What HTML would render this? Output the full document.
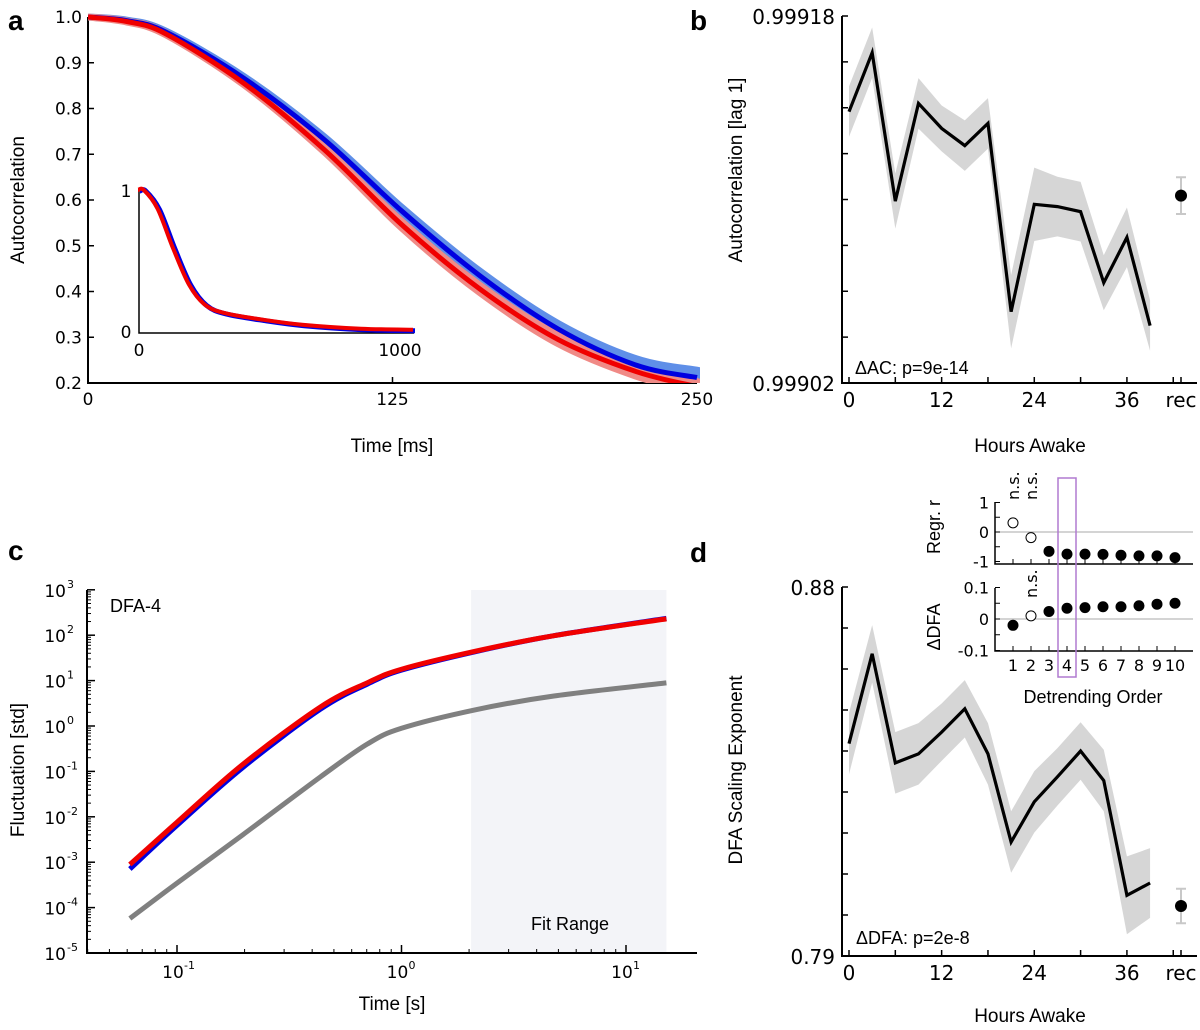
<!DOCTYPE html>
<html><head><meta charset="utf-8"><style>
html,body{margin:0;padding:0;background:#fff;}
svg{display:block;font-family:"DejaVu Sans","Liberation Sans",sans-serif;}
.lbl{font-family:"Liberation Sans",sans-serif;}
</style></head><body>
<svg id="fig" width="1200" height="1030" viewBox="0 0 1200 1030" xmlns="http://www.w3.org/2000/svg">
<defs><clipPath id="clipA"><rect x="88" y="10" width="612" height="373"/></clipPath></defs>
<text x="8" y="30" font-size="28" font-weight="bold" class="lbl">a</text>
<text x="690" y="30" font-size="28" font-weight="bold" class="lbl">b</text>
<text x="8" y="560" font-size="28" font-weight="bold" class="lbl">c</text>
<text x="690" y="562" font-size="28" font-weight="bold" class="lbl">d</text>
<text class="lbl" x="392" y="452" font-size="19" text-anchor="middle">Time [ms]</text>
<text class="lbl" transform="translate(24,200) rotate(-90)" font-size="19" text-anchor="middle">Autocorrelation</text>
<text class="lbl" x="1030" y="452" font-size="19" text-anchor="middle">Hours Awake</text>
<text class="lbl" transform="translate(742,170) rotate(-90)" font-size="19" text-anchor="middle">Autocorrelation [lag 1]</text>
<text class="lbl" x="855" y="374" font-size="18">ΔAC: p=9e-14</text>
<text class="lbl" x="392" y="1010" font-size="19" text-anchor="middle">Time [s]</text>
<text class="lbl" transform="translate(24,770) rotate(-90)" font-size="19" text-anchor="middle">Fluctuation [std]</text>
<text class="lbl" x="1030" y="1022" font-size="19" text-anchor="middle">Hours Awake</text>
<text class="lbl" transform="translate(742,770) rotate(-90)" font-size="19" text-anchor="middle">DFA Scaling Exponent</text>
<text class="lbl" x="856" y="944" font-size="18">ΔDFA: p=2e-8</text>
<text class="lbl" x="1093" y="703" font-size="18" text-anchor="middle">Detrending Order</text>
<text class="lbl" transform="translate(940,527) rotate(-90)" font-size="18" text-anchor="middle">Regr. r</text>
<text class="lbl" transform="translate(940,627) rotate(-90)" font-size="18" text-anchor="middle">ΔDFA</text>
</svg>
<script>
// ---- Panel a data ----
const aTimes = [0, 16, 32, 64, 97, 129, 161, 193, 225, 250];
const aBlue = [1.0, 0.992, 0.967, 0.866, 0.732, 0.575, 0.434, 0.318, 0.239, 0.212];
const aRed = [1.0, 0.99, 0.963, 0.855, 0.71, 0.545, 0.405, 0.295, 0.225, 0.192];
const aBlueErr = [0, 0.001, 0.002, 0.004, 0.006, 0.008, 0.01, 0.012, 0.014, 0.016];
const aRedErr = [0, 0.001, 0.002, 0.003, 0.005, 0.007, 0.008, 0.009, 0.01, 0.011];
const aYTicks = ["0.2","0.3","0.4","0.5","0.6","0.7","0.8","0.9","1.0"];
const aXTicks = [0, 125, 250];
const inTimes = [0, 21, 71, 128, 185, 242, 313, 455, 597, 811, 1000];
const inVals = [1, 1, 0.87, 0.59, 0.34, 0.2, 0.14, 0.093, 0.058, 0.03, 0.023];
// ---- Panel b data ----
const bHours = [0, 3, 6, 9, 12, 15, 18, 21, 24, 27, 30, 33, 36, 39];
const bVals = [11.83, 14.4, 7.93, 12.19, 11.1, 10.35, 11.32, 3.11, 7.79, 7.69, 7.47, 4.37, 6.35, 2.5];
const bErr = [1.1, 1.1, 1.2, 1.1, 1.0, 1.1, 1.1, 1.6, 1.6, 1.3, 1.3, 1.2, 1.3, 1.1];
const bRec = 8.17;
const bRecErr = 0.8;
const bXTicks = ["0", "12", "24", "36"];
// ---- Panel c data (log10) ----
const cLogT = [-1.21, -1.0, -0.708, -0.361, -0.153, 0, 0.332, 0.679, 1.18];
const cRed = [-3.05, -2.12, -0.85, 0.42, 0.95, 1.25, 1.65, 1.99, 2.36];
const cBlue = [-3.15, -2.19, -0.92, 0.37, 0.92, 1.23, 1.64, 1.99, 2.37];
const cGray = [-4.24, -3.46, -2.4, -1.12, -0.4, -0.05, 0.36, 0.66, 0.95];
const cFitRange = [0.31, 1.18];
const cYTicks = [-5, -4, -3, -2, -1, 0, 1, 2, 3];
const cXTicks = [-1, 0, 1];
// ---- Panel d data ----
const dHours = [0, 3, 6, 9, 12, 15, 18, 21, 24, 27, 30, 33, 36, 39];
const dVals = [0.8418, 0.8637, 0.8371, 0.8393, 0.8446, 0.8503, 0.8393, 0.8178, 0.8276, 0.8337, 0.84, 0.8328, 0.8048, 0.8078];
const dErr = [0.0075, 0.007, 0.0075, 0.0075, 0.007, 0.007, 0.0075, 0.0075, 0.0075, 0.007, 0.007, 0.0075, 0.0095, 0.0085];
const dRec = 0.8022;
const dRecErr = 0.0042;
// ---- Inset d data ----
const insOrders = [1, 2, 3, 4, 5, 6, 7, 8, 9, 10];
const insRegr = [0.31, -0.19, -0.655, -0.75, -0.75, -0.76, -0.79, -0.81, -0.81, -0.87];
const insRegrSig = [false, false, true, true, true, true, true, true, true, true];
const insDDFA = [-0.02, 0.01, 0.024, 0.034, 0.036, 0.039, 0.039, 0.042, 0.047, 0.05];
const insDDFASig = [true, false, true, true, true, true, true, true, true, true];

const NS = "http://www.w3.org/2000/svg";
const svg = document.getElementById("fig");
function mk(tag, attrs, parent) {
  const el = document.createElementNS(NS, tag);
  for (const k in attrs) el.setAttribute(k, attrs[k]);
  (parent || svg).appendChild(el);
  return el;
}
function smooth(pts) {
  let d = "M" + pts[0][0] + "," + pts[0][1];
  for (let i = 0; i < pts.length - 1; i++) {
    const p0 = pts[Math.max(0, i - 1)], p1 = pts[i], p2 = pts[i + 1], p3 = pts[Math.min(pts.length - 1, i + 2)];
    const c1 = [p1[0] + (p2[0] - p0[0]) / 6, p1[1] + (p2[1] - p0[1]) / 6];
    const c2 = [p2[0] - (p3[0] - p1[0]) / 6, p2[1] - (p3[1] - p1[1]) / 6];
    d += " C" + c1[0] + "," + c1[1] + " " + c2[0] + "," + c2[1] + " " + p2[0] + "," + p2[1];
  }
  return d;
}
function poly(pts) { return "M" + pts.map(p => p[0] + "," + p[1]).join(" L"); }

// ================= Panel a =================
const xa = t => 88 + t / 250 * 609;
const ya = v => 383 - (v - 0.2) / 0.8 * 366;
let el;
el = mk("path", {d: "M88,17 L88,383 L697,383", fill: "none", stroke: "#000", "stroke-width": 2});


aYTicks.forEach(s => {
  const y = ya(parseFloat(s));
  el = mk("line", {x1: 88, x2: 94, y1: y, y2: y, stroke: "#000", "stroke-width": 1.5});
  
  
  el = mk("text", {x: 82, y: y + 6, "font-size": 17, "text-anchor": "end"});
  el.textContent = s;
  
  
});
aXTicks.forEach(t => {
  el = mk("line", {x1: xa(t), x2: xa(t), y1: 383, y2: 377, stroke: "#000", "stroke-width": 1.5});
  
  
  el = mk("text", {x: xa(t), y: 405, "font-size": 17, "text-anchor": "middle"});
  el.textContent = String(t);
  
  
});
const gA = mk("g", {"clip-path": "url(#clipA)"});


function bandA(vals, errs, fill, name) {
  const up = aTimes.map((t, i) => [xa(t), ya(vals[i] + errs[i])]);
  const lo = aTimes.map((t, i) => [xa(t), ya(vals[i] - errs[i])]).reverse();
  const d = smooth(up) + " L" + smooth(lo).slice(1) + " Z";
  const e = mk("path", {d: d, fill: fill, stroke: fill, "stroke-width": 7}, gA);
  
  
}
bandA(aBlue, aBlueErr, "#5f8fe8", "blue-band-a");
bandA(aRed, aRedErr, "#f08a86", "red-band-a");
el = mk("path", {d: smooth(aTimes.map((t, i) => [xa(t), ya(aBlue[i])])), fill: "none", stroke: "#0000e0", "stroke-width": 5}, gA);


el = mk("path", {d: smooth(aTimes.map((t, i) => [xa(t), ya(aRed[i])])), fill: "none", stroke: "#f00000", "stroke-width": 5}, gA);


// inset
const xi = t => 139 + t / 1000 * 275;
const yi = v => 333 - v * 143;
el = mk("path", {d: "M139,190 L139,333 L414,333", fill: "none", stroke: "#000", "stroke-width": 1.5});


[["1", 126, 197], ["0", 126, 338], ["0", 139, 356], ["1000", 400, 356]].forEach(([s, x, y]) => {
  el = mk("text", {x: x, y: y, "font-size": 17, "text-anchor": "middle"});
  el.textContent = s;
  
  
});
el = mk("path", {d: smooth(inTimes.map((t, i) => [xi(t) + 1, yi(inVals[i]) + 1])), fill: "none", stroke: "#0000e0", "stroke-width": 5});


el = mk("path", {d: smooth(inTimes.map((t, i) => [xi(t) - 1, yi(inVals[i])])), fill: "none", stroke: "#f00000", "stroke-width": 4});



// ================= Panels b and d (shared style) =================
const xh = h => 849 + h * 7.72;
function hoursPanel(yTop, yBot, ntick, yf, hours, vals, errs, rec, recErr, topLbl, botLbl, key) {
  el = mk("path", {d: `M842,${yTop} L842,${yBot} L1197,${yBot}`, fill: "none", stroke: "#000", "stroke-width": 2});
  
  
  for (let i = 0; i <= ntick; i++) {
    const y = yTop + (yBot - yTop) * i / ntick;
    el = mk("line", {x1: 842, x2: 848, y1: y, y2: y, stroke: "#000", "stroke-width": 1.5});
    
    
  }
  el = mk("text", {x: 835, y: yTop + 8, "font-size": 20, "text-anchor": "end"});
  el.textContent = topLbl;
  
  
  el = mk("text", {x: 835, y: yBot + 8, "font-size": 20, "text-anchor": "end"});
  el.textContent = botLbl;
  
  
  for (let h = 0; h <= 42; h += 6) {
    el = mk("line", {x1: xh(h), x2: xh(h), y1: yBot, y2: yBot - 6, stroke: "#000", "stroke-width": 1.5});
    
    
  }
  el = mk("line", {x1: 1181, x2: 1181, y1: yBot, y2: yBot - 6, stroke: "#000", "stroke-width": 1.5});
  
  
  bXTicks.forEach(s => {
    el = mk("text", {x: xh(parseFloat(s)), y: yBot + 24, "font-size": 20, "text-anchor": "middle"});
    el.textContent = s;
    
    
  });
  el = mk("text", {x: 1181, y: yBot + 24, "font-size": 20, "text-anchor": "middle"});
  el.textContent = "rec";
  
  
  const up = hours.map((h, i) => [xh(h), yf(vals[i] + errs[i])]);
  const lo = hours.map((h, i) => [xh(h), yf(vals[i] - errs[i])]).reverse();
  el = mk("path", {d: poly(up.concat(lo)) + " Z", fill: "#d6d6d6", stroke: "none"});
  
  
  el = mk("path", {d: poly(hours.map((h, i) => [xh(h), yf(vals[i])])), fill: "none", stroke: "#000", "stroke-width": 3.2, "stroke-linejoin": "miter"});
  
  
  const y1 = yf(rec + recErr), y2 = yf(rec - recErr);
  el = mk("path", {d: `M1181,${y1} L1181,${y2} M1176,${y1} L1186,${y1} M1176,${y2} L1186,${y2}`, stroke: "#c8c8c8", "stroke-width": 2, fill: "none"});
  
  
  el = mk("circle", {cx: 1181, cy: yf(rec), r: 6, fill: "#000"});
  
  
}
hoursPanel(16, 383, 8, v => 383 - v / 16 * 367, bHours, bVals, bErr, bRec, bRecErr, "0.99918", "0.99902", "b");
hoursPanel(587, 956, 9, v => 956 - (v - 0.79) / 0.09 * 369, dHours, dVals, dErr, dRec, dRecErr, "0.88", "0.79", "d");

// ================= Panel c =================
const xc = lt => 177 + (lt + 1) * 224.5;
const yc = lf => 953 - (lf + 5) * 45.4;
el = mk("rect", {x: xc(cFitRange[0]), y: 590, width: xc(cFitRange[1]) - xc(cFitRange[0]), height: 363, fill: "#f3f4f8"});


el = mk("path", {d: "M87,590 L87,953 L697,953", fill: "none", stroke: "#000", "stroke-width": 2});


cYTicks.forEach(p => {
  const y = yc(p);
  el = mk("line", {x1: 87, x2: 95, y1: y, y2: y, stroke: "#000", "stroke-width": 1.5});
  
  
  if (p < 3) for (let m = 2; m <= 9; m++) {
    const ym = yc(p + Math.log10(m));
    el = mk("line", {x1: 87, x2: 91, y1: ym, y2: ym, stroke: "#000", "stroke-width": 1});
    
    
  }
  el = mk("text", {x: 66, y: y + 7, "font-size": 17, "text-anchor": "end"});
  el.textContent = "10";
  
  
  el = mk("text", {x: 67, y: y - 2, "font-size": 11});
  el.textContent = String(p);
  
  
});
for (let p = -2; p <= 1; p++) {
  for (let m = 1; m <= 9; m++) {
    const lt = p + Math.log10(m);
    if (lt < -1.4 || lt > 1.3) continue;
    const major = m === 1;
    el = mk("line", {x1: xc(lt), x2: xc(lt), y1: 953, y2: 953 - (major ? 8 : 4), stroke: "#000", "stroke-width": major ? 1.5 : 1});
    
    
  }
}
cXTicks.forEach(p => {
  el = mk("text", {x: xc(p) - 4, y: 978, "font-size": 17, "text-anchor": "middle"});
  el.textContent = "10";
  
  
  el = mk("text", {x: xc(p) + 7, y: 969, "font-size": 11});
  el.textContent = String(p);
  
  
});
el = mk("path", {d: smooth(cLogT.map((t, i) => [xc(t), yc(cGray[i])])), fill: "none", stroke: "#808080", "stroke-width": 5});


el = mk("path", {d: smooth(cLogT.map((t, i) => [xc(t), yc(cBlue[i])])), fill: "none", stroke: "#0000e0", "stroke-width": 5});


el = mk("path", {d: smooth(cLogT.map((t, i) => [xc(t), yc(cRed[i])])), fill: "none", stroke: "#f00000", "stroke-width": 5});


el = mk("text", {x: 110, y: 612, "font-size": 18, "class": "lbl"});
el.textContent = "DFA-4";


el = mk("text", {x: 570, y: 930, "font-size": 18, "text-anchor": "middle", "class": "lbl"});
el.textContent = "Fit Range";



// ================= Inset d =================
const xo = o => 1013 + (o - 1) * 18;
const yr = r => 532 - r * 29.5;
const ydd = v => 619 - v * 315;
function insetAxes(yTop, yBot, yZero, tickYs, labels, key) {
  el = mk("line", {x1: 995, x2: 1193, y1: yZero, y2: yZero, stroke: "#aaa", "stroke-width": 1});
  
  
  el = mk("path", {d: `M995,${yTop} L995,${yBot} L1193,${yBot}`, fill: "none", stroke: "#000", "stroke-width": 1.5});
  
  
  tickYs.forEach((y, i) => {
    el = mk("line", {x1: 995, x2: 1000, y1: y, y2: y, stroke: "#000", "stroke-width": 1});
    
    
    if (labels[i] !== "") {
      el = mk("text", {x: 989, y: y + 6, "font-size": 16, "text-anchor": "end"});
      el.textContent = labels[i];
      
      
    }
  });
  insOrders.forEach(o => {
    el = mk("line", {x1: xo(o), x2: xo(o), y1: yBot, y2: yBot - 5, stroke: "#000", "stroke-width": 1});
    
    
  });
}
insetAxes(502, 564, yr(0), [yr(1), yr(0.5), yr(0), yr(-0.5), yr(-1)], ["1", "", "0", "", "-1"], "regr");
insetAxes(588, 651, ydd(0), [ydd(0.1), ydd(0.05), ydd(0), ydd(-0.05), ydd(-0.1)], ["0.1", "", "0", "", "-0.1"], "ddfa");
insOrders.forEach((o, i) => {
  el = mk("text", {x: xo(o), y: 671, "font-size": 16, "text-anchor": "middle"});
  el.textContent = String(o);
  
  
  el = mk("circle", {cx: xo(o), cy: yr(insRegr[i]), r: 5, fill: insRegrSig[i] ? "#000" : "#fff", stroke: "#000", "stroke-width": 1});
  
  
  el = mk("circle", {cx: xo(o), cy: ydd(insDDFA[i]), r: 5, fill: insDDFASig[i] ? "#000" : "#fff", stroke: "#000", "stroke-width": 1});
  
  
});
[[xo(1) + 6, 500], [xo(2) + 6, 500], [xo(2) + 6, 598]].forEach(([x, y]) => {
  el = mk("text", {transform: `translate(${x},${y}) rotate(-90)`, "font-size": 16});
  el.textContent = "n.s.";
  
  
});
el = mk("rect", {x: 1058, y: 478, width: 18, height: 199, fill: "none", stroke: "#b07ad0", "stroke-width": 1.5});


</script>
</body></html>
